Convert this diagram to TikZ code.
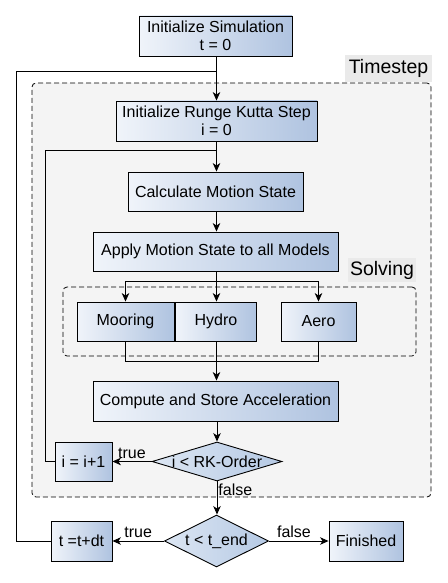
\documentclass[tikz,border=0pt]{standalone}
\usepackage{fontspec}
\setmainfont{Liberation Sans}
\usetikzlibrary{shapes.geometric,arrows.meta}
\definecolor{boxL}{HTML}{F0F4FA}
\definecolor{boxR}{HTML}{AFC3E0}
\definecolor{diaL}{HTML}{DCE6F3}
\definecolor{diaR}{HTML}{B5C9E4}
\definecolor{panel}{HTML}{F4F4F4}
\definecolor{tagbg}{HTML}{EAEAEA}
\begin{document}
\begin{tikzpicture}[x=1pt,y=-1pt,
  font=\fontsize{16}{18.5}\selectfont,
  box/.style={draw, line width=0.9pt, left color=boxL, right color=boxR, inner sep=0pt, align=center},
  dia/.style={draw, line width=0.9pt, diamond, left color=diaL, right color=diaR, inner sep=0pt},
  conn/.style={line width=0.9pt},
  arr/.style={line width=0.9pt, -{Stealth[length=8.5pt,width=7.5pt,inset=2.5pt]}},
  grp/.style={draw, dash pattern=on 5pt off 3pt, line width=0.8pt, rounded corners=4pt},
  tag/.style={fill=tagbg, inner sep=0pt, font=\fontsize{19.5}{22}\selectfont}
]
\useasboundingbox (0,0) rectangle (447,583);
% Timestep group
\node[grp, fill=panel, minimum width=399pt, minimum height=414pt] (tsgrp) at (231.5,290) {};
\node[tag, minimum width=87pt, minimum height=27pt] (tstag) at (388.5,68.5) {Timestep};
% Solving group
\node[grp, minimum width=353pt, minimum height=69pt] (svgrp) at (239.5,321.5) {};
\node[tag, minimum width=68pt, minimum height=24pt] (svtag) at (382,270) {Solving};

% boxes
\node[box, minimum width=153pt, minimum height=40pt] (init) at (215.5,36) {Initialize Simulation\\t = 0};
\node[box, minimum width=201pt, minimum height=40pt] (rk) at (216.5,121) {Initialize Runge Kutta Step\\i = 0};
\node[box, minimum width=175pt, minimum height=39pt] (calc) at (215.5,191.5) {Calculate Motion State};
\node[box, minimum width=245pt, minimum height=39pt] (apply) at (215.5,251.5) {Apply Motion State to all Models};
\node[box, minimum width=97pt, minimum height=39pt] (moor) at (125.5,321.5) {Mooring};
\node[box, minimum width=81pt, minimum height=39pt] (hydro) at (216,321.5) {Hydro};
\node[box, minimum width=75pt, minimum height=39pt] (aero) at (318.5,321.5) {Aero};
\node[box, minimum width=245pt, minimum height=40pt] (comp) at (215.5,401) {Compute and Store Acceleration};
\node[dia, minimum width=130pt, minimum height=39pt] (rkd) at (217,461.5) {};
\node[inner sep=0pt] (rkdt) at (217,461.5) {i < RK-Order};
\node[box, minimum width=57pt, minimum height=39pt] (iinc) at (83.5,461.5) {i = i+1};
\node[dia, minimum width=104pt, minimum height=52pt] (td) at (216.5,541) {};
\node[inner sep=0pt] (tdt) at (216.5,541) {t < t\_end};
\node[box, minimum width=61pt, minimum height=40pt] (tinc) at (81.5,541) {t =t+dt};
\node[box, minimum width=74pt, minimum height=40pt] (fin) at (366,541) {Finished};

% coordinates
\coordinate (otop) at (216.5,71);
\coordinate (itop) at (216.5,150);
\coordinate (split) at (216.5,281);
\coordinate (merge) at (216.5,361);

% connectors
\draw[arr] (init.south -| otop) -- (rk.north -| otop);
\draw[conn] (tinc.west) -- (16,541) -- (16,71) -- (otop);
\draw[conn] (rk.south -| itop) -- (itop);
\draw[arr] (iinc.west) -- (45,461.5) -- (45,150) -- (itop) -- (calc.north -| itop);
\draw[arr] (calc.south -| itop) -- (apply.north -| itop);
\draw[conn] (apply.south -| split) -- (split);
\draw[arr] (split) -| (moor.north);
\draw[arr] (split) -| (aero.north);
\draw[arr] (split) -- (hydro.north -| split);
\draw[conn] (moor.south) |- (merge);
\draw[conn] (aero.south) |- (merge);
\draw[conn] (hydro.south -| merge) -- (merge);
\draw[arr] (merge) -- (comp.north -| merge);
\draw[arr] (comp.south -| rkd) -- (rkd.north);
\draw[arr] (rkd.west) -- (iinc.east) node[pos=0.5, above=1pt, inner sep=1pt] (lt1) {true};
\draw[arr] (rkd.south) -- (td.north -| rkd) node[pos=0.25, right, inner sep=1pt] (lf1) {false};
\draw[arr] (td.west) -- (tinc.east) node[pos=0.5, above=2pt, inner sep=1pt] (lt2) {true};
\draw[arr] (td.east) -- (fin.west) node[pos=0.42, above=2pt, inner sep=1pt] (lf2) {false};
\end{tikzpicture}
\end{document}
